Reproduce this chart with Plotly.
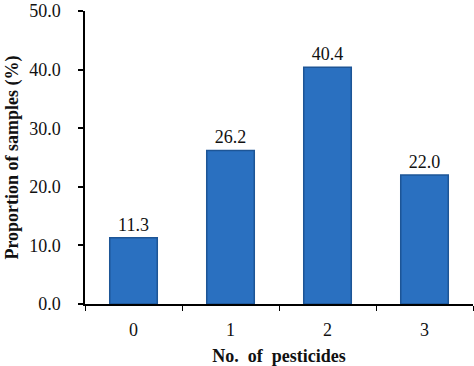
import plotly.graph_objects as go

categories = ["0", "1", "2", "3"]
values = [11.3, 26.2, 40.4, 22.0]
labels = ["11.3", "26.2", "40.4", "22.0"]
y_ticks = [0, 10, 20, 30, 40, 50]
y_ticklabels = ["0.0", "10.0", "20.0", "30.0", "40.0", "50.0"]

font_family = "Liberation Serif"

fig = go.Figure()
fig.add_trace(go.Bar(
    x=categories, y=values,
    text=labels, textposition="outside",
    textfont=dict(family=font_family, size=18, color="#111111"),
    marker=dict(color="#2a70c0", line=dict(color="#1d5596", width=1.5)),
    width=0.49,
    cliponaxis=False,
))

fig.update_layout(
    width=474, height=366,
    margin=dict(l=85, r=1, t=7, b=62),
    paper_bgcolor="white", plot_bgcolor="white",
    showlegend=False,
    font=dict(family=font_family, size=18, color="#111111"),
    xaxis=dict(
        type="category",
        showline=True, linecolor="black", linewidth=1.5,
        ticks="outside", tickson="boundaries", ticklen=5, tickcolor="black", tickwidth=1,
        tickfont=dict(family=font_family, size=18),
        ticklabelstandoff=9,
        title=dict(text="<b>No.  of  pesticides</b>", font=dict(family=font_family, size=18), standoff=10),
        showgrid=False, zeroline=False,
    ),
    yaxis=dict(
        range=[0, 50],
        tickvals=y_ticks, ticktext=y_ticklabels,
        ticklabeloverflow="allow",
        showline=True, linecolor="black", linewidth=1.5,
        ticks="outside", ticklen=5, tickcolor="black", tickwidth=1.5,
        tickfont=dict(family=font_family, size=18),
        ticklabelstandoff=14,
        title=dict(text="<b>Proportion of samples (%)</b>", font=dict(family=font_family, size=18), standoff=6),
        showgrid=False, zeroline=False,
    ),
    bargap=0.5,
)

fig.write_html("out.html")
